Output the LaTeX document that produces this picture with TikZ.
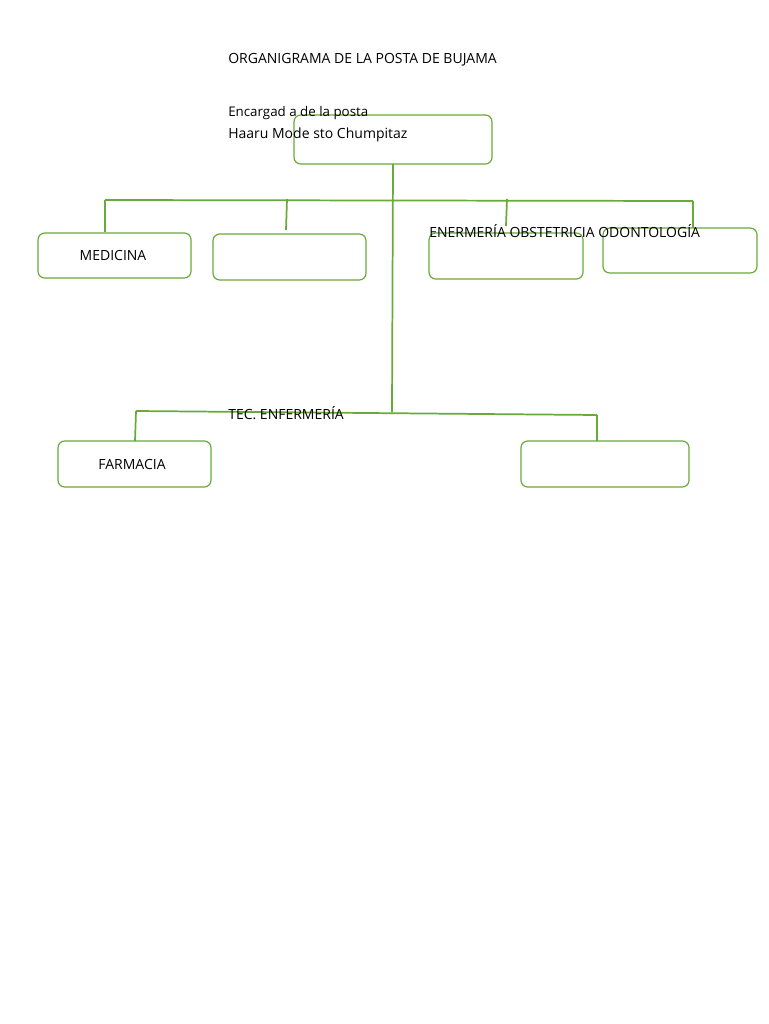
\documentclass[tikz,border=0pt]{standalone}
\usepackage{fontspec}
\setmainfont{Open Sans}
\definecolor{gr}{HTML}{6AAA3A}
\begin{document}
\begin{tikzpicture}[x=0.75pt,y=-0.75pt,
  bx/.style={draw=gr,line width=0.9pt,rounded corners=5pt},
  ln/.style={draw=gr,line width=1.3pt},
  tx/.style={anchor=west,inner sep=0pt,font=\fontsize{10.5pt}{12pt}\selectfont}]
\useasboundingbox[fill=white] (0,0) rectangle (768,1024);
\draw[bx] (294,115) rectangle (492,164);
\draw[bx] (38,233) rectangle (191,278);
\draw[bx] (213,234) rectangle (366,280);
\draw[bx] (429,233) rectangle (583,279);
\draw[bx] (603,228) rectangle (757,273);
\draw[bx] (58,441) rectangle (211,487);
\draw[bx] (521,441) rectangle (689,487);
\coordinate (t) at (393,164);
\coordinate (m) at (392,412);
\draw[ln] (t) -- (m);
\draw[ln] (105,200) -- (693,201);
\draw[ln] (105,200) -- (105,232);
\draw[ln] (287,199) -- (286,230);
\draw[ln] (507,199) -- (506,226);
\draw[ln] (693,201) -- (693,228);
\draw[ln] (136,411) -- (597,415);
\draw[ln] (136,411) -- (135,441);
\draw[ln] (597,415) -- (597,441);
\node[tx] (title) at (228,60) {ORGANIGRAMA DE LA POSTA DE BUJAMA};
\node[tx,font=\fontsize{10pt}{12pt}\selectfont] (enc) at (228,113) {Encargad a de la posta};
\node[tx] (name) at (228,135) {Haaru Mode sto Chumpitaz};
\node[tx] (eoo) at (429,231) {ENERMERÍA OBSTETRICIA ODONTOLOGÍA};
\node[tx] (tec) at (228,413) {TEC. ENFERMERÍA};
\node[inner sep=0pt,font=\fontsize{10.5pt}{12pt}\selectfont] (med) at (113,255) {MEDICINA};
\node[inner sep=0pt,font=\fontsize{10.5pt}{12pt}\selectfont] (far) at (132,464) {FARMACIA};
\end{tikzpicture}
\end{document}
